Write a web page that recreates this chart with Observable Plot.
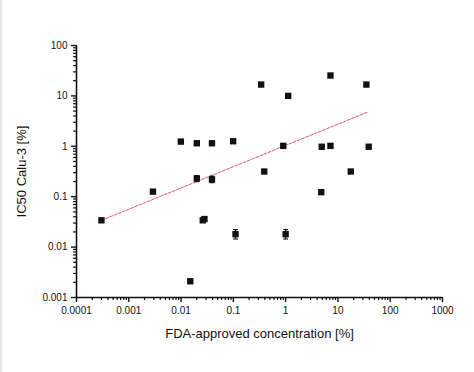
<!DOCTYPE html>
<html>
<head>
<meta charset="utf-8">
<script src="https://cdn.jsdelivr.net/npm/d3@7"></script>
<script src="https://cdn.jsdelivr.net/npm/@observablehq/plot@0.6"></script>
<style>
  html, body { margin: 0; padding: 0; background: #fff; }
  #strip { position: absolute; left: 0; top: 0; width: 2px; height: 372px; background: #e6e6e6; }
  #chart { position: absolute; left: 0; top: 0; }
</style>
</head>
<body>
<div id="chart"></div>
<div id="strip"></div>
<script>
// FDA-approved concentration [%]
const conc = [0.0003, 0.0029, 0.0099, 0.02, 0.039, 0.099, 0.02, 0.039, 0.026, 0.028, 0.11, 0.015, 1.0,
              0.34, 1.12, 7.2, 35, 0.9, 4.9, 7.2, 38.8, 0.39, 17.6, 4.8];
// IC50 Calu-3 [%]
const ic50 = [0.034, 0.126, 1.24, 1.15, 1.15, 1.26, 0.23, 0.22, 0.034, 0.036, 0.018, 0.0021, 0.018,
              16.8, 10, 25.4, 16.8, 1.02, 0.98, 1.02, 0.98, 0.316, 0.316, 0.123];
// error bar bounds (same order; null = no visible bar)
const errLow  = [null, null, null, null, null, null, 0.2, 0.19, null, null, 0.0145, null, 0.0145,
                 null, null, null, null, null, null, null, null, null, null, null];
const errHigh = [null, null, null, null, null, null, 0.262, 0.255, null, null, 0.0223, null, 0.0223,
                 null, null, null, null, null, null, null, null, null, null, null];

// regression line end points
const fitX = [0.0003, 36.6];
const fitY = [0.034, 4.75];

const xMajor = [0.0001, 0.001, 0.01, 0.1, 1, 10, 100, 1000];
const xTickLabels = ["0.0001", "0.001", "0.01", "0.1", "1", "10", "100", "1000"];
const yMajor = [0.001, 0.01, 0.1, 1, 10, 100];
const yTickLabels = ["0.001", "0.01", "0.1", "1", "10", "100"];
const minorMult = [2, 3, 4, 5, 6, 7, 8, 9];

const xMinor = xMajor.slice(0, -1).flatMap(d => minorMult.map(m => d * m));
const yMinor = yMajor.slice(0, -1).flatMap(d => minorMult.map(m => d * m));

const points = conc.map((c, i) => ({x: c, y: ic50[i], lo: errLow[i], hi: errHigh[i]}));
const errs = points.filter(d => d.lo != null);
const caps = errs.flatMap(d => [{x: d.x, y: d.lo}, {x: d.x, y: d.hi}]);
const fit = fitX.map((x, i) => ({x, y: fitY[i]}));

const capSymbol = {draw(ctx, size) { const w = Math.sqrt(size) / 2; ctx.moveTo(-w, 0); ctx.lineTo(w, 0); }};

const chart = Plot.plot({
  width: 474,
  height: 372,
  marginLeft: 76,
  marginRight: 32,
  marginTop: 45,
  marginBottom: 75,
  style: {fontFamily: "'Liberation Sans', Arial, sans-serif", fontSize: "10px", color: "#111", background: "#fff"},
  x: {type: "log", domain: [0.0001, 1000]},
  y: {type: "log", domain: [0.001, 100]},
  marks: [
    Plot.axisX({ticks: xMinor, tickSize: 3, tickFormat: () => "", strokeWidth: 1.2, label: null}),
    Plot.axisY({ticks: yMinor, tickSize: 3, tickFormat: () => "", strokeWidth: 1.2, label: null}),
    Plot.axisX({ticks: xMajor, tickSize: 5, tickPadding: 4, strokeWidth: 1.4,
      tickFormat: (d) => xTickLabels[xMajor.indexOf(d)],
      label: "FDA-approved concentration [%]", labelAnchor: "center", labelArrow: "none", labelOffset: 40,
      fontSize: 10}),
    Plot.axisY({ticks: yMajor, tickSize: 5, tickPadding: 4, strokeWidth: 1.4,
      tickFormat: (d) => yTickLabels[yMajor.indexOf(d)],
      label: "IC50 Calu-3 [%]", labelAnchor: "center", labelArrow: "none", labelOffset: 60,
      fontSize: 10}),
    Plot.ruleX([0.0001], {stroke: "#111", strokeWidth: 1.6}),
    Plot.ruleY([0.001], {stroke: "#111", strokeWidth: 1.6}),
    Plot.line(fit, {x: "x", y: "y", stroke: "#e05577", strokeWidth: 1, strokeDasharray: "3,1.5"}),
    Plot.ruleX(errs, {x: "x", y1: "lo", y2: "hi", stroke: "#111", strokeWidth: 1.2}),
    Plot.dot(caps, {x: "x", y: "y", symbol: capSymbol, r: 2.6, stroke: "#111", strokeWidth: 1.2, fill: "none"}),
    Plot.dot(points, {x: "x", y: "y", symbol: "square", r: 3.6, fill: "#111", stroke: "none"})
  ]
});

chart.querySelectorAll('[aria-label="x-axis label"] text, [aria-label="y-axis label"] text').forEach(t => {
  t.setAttribute("font-size", "13px");
  t.style.fontSize = "13px";
});
document.getElementById("chart").appendChild(chart);
</script>
</body>
</html>
